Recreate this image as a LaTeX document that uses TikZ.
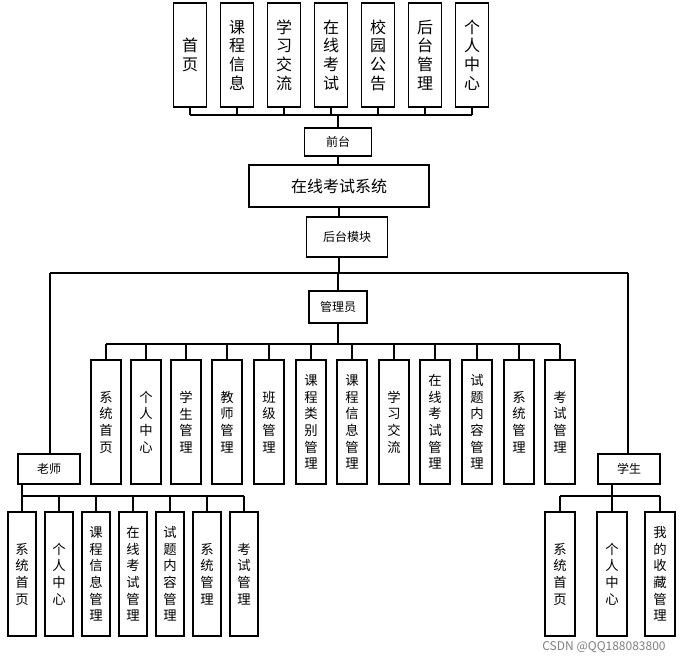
\documentclass[tikz,border=0pt]{standalone}
\usepackage{fontspec}
\setmainfont{Noto Sans CJK SC}
\begin{document}
\begin{tikzpicture}[x=0.75pt,y=-0.75pt,
 bx/.style={draw,line width=0.8pt,inner sep=0pt,align=center},
 ln/.style={line width=0.8pt}]
\useasboundingbox (0,0) rectangle (693,665);
\fill[white] (0,0) rectangle (693,665);
% top row
\foreach \i/\t [count=\k] in {190/首\\页,237/课\\程\\信\\息,284/学\\习\\交\\流,331/在\\线\\考\\试,378/校\\园\\公\\告,425/后\\台\\管\\理,472/个\\人\\中\\心}{
  \node[bx,minimum width=33*0.75pt,minimum height=104*0.75pt,font=\fontsize{12}{14}\selectfont] (t\k) at (\i,55) {\t};
  \draw[ln] (t\k.south) -- (\i,115);
}
\draw[ln] (190,115) -- (472,115);
\node[bx,minimum width=67*0.75pt,minimum height=28*0.75pt,font=\fontsize{9}{10}\selectfont] (qt) at (338,142) {前台};
\node[bx,minimum width=180*0.75pt,minimum height=42*0.75pt,font=\fontsize{12}{14}\selectfont] (sys) at (339,186) {在线考试系统};
\node[bx,minimum width=81*0.75pt,minimum height=40*0.75pt,font=\fontsize{9}{10}\selectfont] (ht) at (347,237) {后台模块};
\draw[ln] (338,115) -- (qt.north);
\draw[ln] (qt.south) -- (sys.north -| qt.south);
\draw[ln] (ht.north -| 339,0) -- (339,207);
\draw[ln] (339,257) -- (339,273);
\draw[ln] (50,273) -- (628,273);
\node[bx,minimum width=58*0.75pt,minimum height=32*0.75pt,font=\fontsize{9}{10}\selectfont] (gl) at (338,307) {管理员};
\draw[ln] (338,273) -- (gl.north);
\node[bx,minimum width=62*0.75pt,minimum height=30*0.75pt,font=\fontsize{9}{10}\selectfont] (ls) at (49,469) {老师};
\node[bx,minimum width=62*0.75pt,minimum height=30*0.75pt,font=\fontsize{9}{10}\selectfont] (xs) at (629,469) {学生};
\draw[ln] (50,273) -- (ls.north -| 50,0);
\draw[ln] (628,273) -- (xs.north -| 628,0);
% admin
\draw[ln] (gl.south) -- (338,344);
\draw[ln] (106,344) -- (560,344);
\foreach \x/\t [count=\k] in {106/系\\统\\首\\页,146/个\\人\\中\\心,186/学\\生\\管\\理,227/教\\师\\管\\理,269/班\\级\\管\\理,311/课\\程\\类\\别\\管\\理,352/课\\程\\信\\息\\管\\理,394/学\\习\\交\\流,435/在\\线\\考\\试\\管\\理,477/试\\题\\内\\容\\管\\理,519/系\\统\\管\\理,560/考\\试\\管\\理}{
  \node[bx,minimum width=30*0.75pt,minimum height=124*0.75pt,font=\fontsize{10}{12.5}\selectfont] (a\k) at (\x,422) {\t};
  \draw[ln] (\x,344) -- (a\k.north);
}
% teacher
\draw[ln] (ls.south -| 22,0) -- (22,496);
\draw[ln] (22,496) -- (244,496);
\foreach \x/\t [count=\k] in {22/系\\统\\首\\页,59/个\\人\\中\\心,96/课\\程\\信\\息\\管\\理,133/在\\线\\考\\试\\管\\理,170/试\\题\\内\\容\\管\\理,207/系\\统\\管\\理,244/考\\试\\管\\理}{
  \node[bx,minimum width=28*0.75pt,minimum height=124*0.75pt,font=\fontsize{10}{12.5}\selectfont] (b\k) at (\x,574) {\t};
  \draw[ln] (\x,496) -- (b\k.north);
}
% student
\draw[ln] (xs.south -| 612,0) -- (612,496);
\draw[ln] (560,496) -- (660,496);
\foreach \x/\t [count=\k] in {560/系\\统\\首\\页,612/个\\人\\中\\心,660/我\\的\\收\\藏\\管\\理}{
  \node[bx,minimum width=30*0.75pt,minimum height=124*0.75pt,font=\fontsize{10}{12.5}\selectfont] (c\k) at (\x,574) {\t};
  \draw[ln] (\x,496) -- (c\k.north);
}
\node[font=\fontsize{9}{10}\selectfont,text=gray] (wm) at (604,647) {CSDN @QQ188083800};
\end{tikzpicture}
\end{document}
